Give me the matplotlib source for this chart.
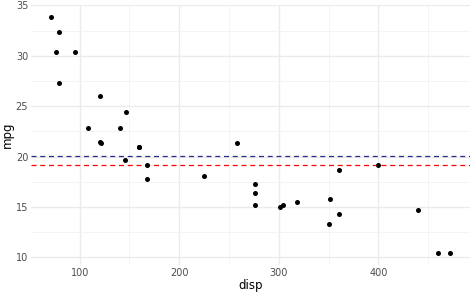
import matplotlib
matplotlib.use("Agg")
import matplotlib.pyplot as plt
import numpy as np

mpg = [21.0, 21.0, 22.8, 21.4, 18.7, 18.1, 14.3, 24.4, 22.8, 19.2, 17.8, 16.4, 17.3, 15.2, 10.4, 10.4,
       14.7, 32.4, 30.4, 33.9, 21.5, 15.5, 15.2, 13.3, 19.2, 27.3, 26.0, 30.4, 15.8, 19.7, 15.0, 21.4]
disp = [160, 160, 108, 258, 360, 225, 360, 146.7, 140.8, 167.6, 167.6, 275.8, 275.8, 275.8, 472, 460,
        440, 78.7, 75.7, 71.1, 120.1, 318, 304, 350, 400, 79, 120.3, 95.1, 351, 145, 301, 121]
x_ticks = [100, 200, 300, 400]
y_ticks = [10, 15, 20, 25, 30, 35]

W, H = 474, 293
fig = plt.figure(figsize=(W / 100, H / 100), dpi=100)
ax = fig.add_axes([31 / W, (H - 265.3) / H, 439 / W, (265.3 - 4.7) / H])

xr = max(disp) - min(disp)
yr = max(mpg) - min(mpg)
ax.set_xlim(min(disp) - 0.05 * xr, max(disp) + 0.05 * xr)
ax.set_ylim(min(mpg) - 0.05 * yr, max(mpg) + 0.05 * yr)

ax.set_xticks(x_ticks)
ax.set_yticks(y_ticks)
ax.set_xticks([150, 250, 350, 450], minor=True)
ax.set_yticks([12.5, 17.5, 22.5, 27.5, 32.5], minor=True)
ax.grid(True, which="major", color="#EBEBEB", linewidth=1.0)
ax.grid(True, which="minor", color="#F2F2F2", linewidth=0.6)
ax.set_axisbelow(True)
for s in ax.spines.values():
    s.set_visible(False)
ax.tick_params(which="both", length=0, labelsize=7, labelcolor="#4D4D4D", pad=2)

ax.scatter(disp, mpg, s=13, color="black", zorder=3, linewidths=0)
ax.axhline(np.mean(mpg), color="#2b2b8c", linestyle=(0, (4, 3)), linewidth=0.9, zorder=2)
ax.axhline(np.median(mpg), color="red", linestyle=(0, (4, 3)), linewidth=0.9, zorder=2)

ax.set_xlabel("disp", fontsize=8.5, labelpad=1)
ax.set_ylabel("mpg", fontsize=8.5, labelpad=1)

fig.savefig("out.png", dpi=100)
